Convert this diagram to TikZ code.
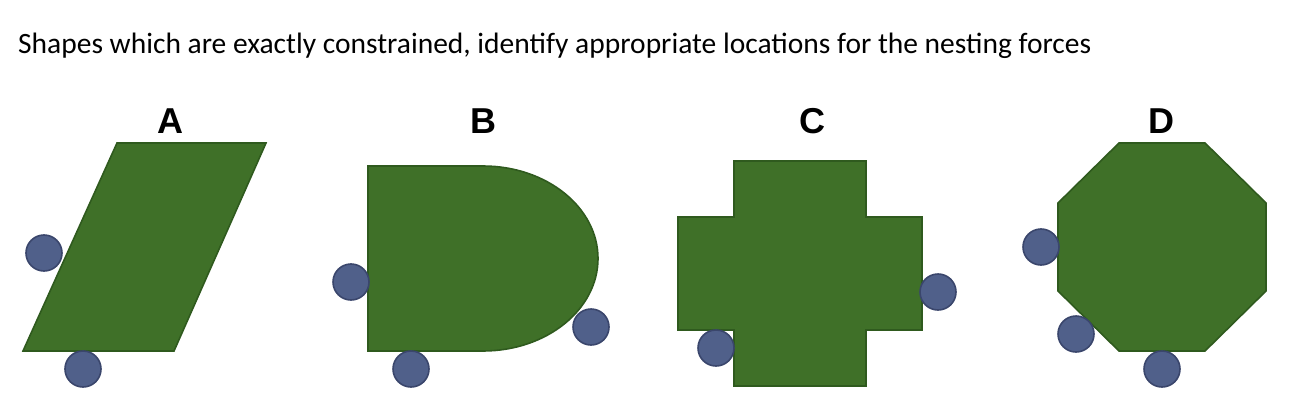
\documentclass[tikz,border=0pt]{standalone}
\usepackage{fontspec}
\setmainfont{Carlito}
\newfontfamily\labelfont{Liberation Sans}
\usepackage{xcolor}
\usepackage{tikz}
\usetikzlibrary{shapes}

\definecolor{partgreen}{RGB}{63,112,40}
\definecolor{partedge}{RGB}{47,90,30}
\definecolor{pinblue}{RGB}{80,96,138}
\definecolor{pinedge}{RGB}{58,70,108}

\begin{document}
\begin{tikzpicture}[x=1pt, y=-1pt]

	\tikzstyle{part}=[fill=partgreen, draw=partedge, line width=1.6pt, line join=miter]
	\tikzstyle{ball}=[circle, fill=pinblue, draw=pinedge, line width=1.6pt, minimum size=36pt, inner sep=0pt]
	\tikzstyle{letter}=[anchor=base, font=\labelfont\bfseries\fontsize{36}{40}\selectfont]

	\useasboundingbox (0,0) rectangle (1306,412);

	\node[anchor=base west, inner sep=0pt, font=\fontsize{29.5}{34}\selectfont] (title) at (18,53)
		{Shapes which are exactly constrained, identify appropriate locations for the nesting forces};

	% Shape A
	\node[letter] (labA) at (170,133) {A};
	\draw[part] (117,143) -- (266,143) -- (174,351) -- (23,351) -- cycle;
	\node[ball] (a1) at (44,253) {};
	\node[ball] (a2) at (83,369) {};

	% Shape B
	\node[letter] (labB) at (483,133) {B};
	\draw[part] (368,166) -- (483,166) arc[start angle=-90, end angle=90, x radius=115, y radius=92.5] -- (368,351) -- cycle;
	\node[ball] (b1) at (351,282) {};
	\node[ball] (b2) at (411,369) {};
	\node[ball] (b3) at (591,327) {};

	% Shape C
	\node[letter] (labC) at (812,133) {C};
	\draw[part] (734,161) -- (866,161) -- (866,217) -- (922,217) -- (922,330) -- (866,330)
		-- (866,386) -- (734,386) -- (734,330) -- (678,330) -- (678,217) -- (734,217) -- cycle;
	\node[ball] (c1) at (938,292) {};
	\node[ball] (c2) at (716,348) {};

	% Shape D
	\node[letter] (labD) at (1161,133) {D};
	\draw[part] (1119,143) -- (1205,143) -- (1266,203) -- (1266,291) -- (1205,351) -- (1119,351)
		-- (1058,291) -- (1058,203) -- cycle;
	\node[ball] (d1) at (1041,247) {};
	\node[ball] (d2) at (1076,334) {};
	\node[ball] (d3) at (1162,369) {};

\end{tikzpicture}
\end{document}
